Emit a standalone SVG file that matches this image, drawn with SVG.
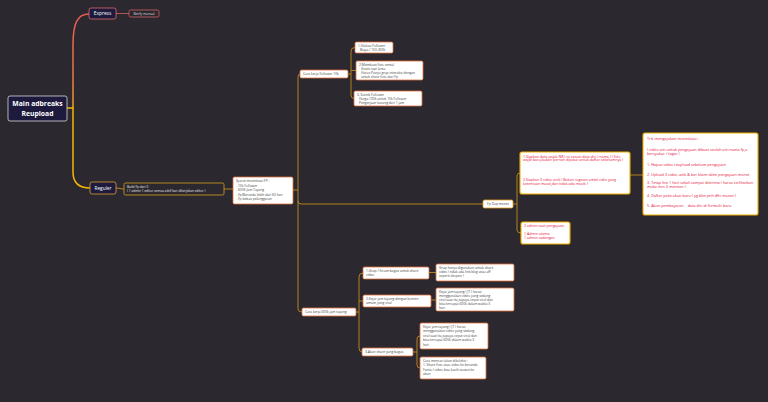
<svg xmlns="http://www.w3.org/2000/svg" width="768" height="402" viewBox="0 0 768 402">
<defs>
<linearGradient id="gRed" gradientUnits="userSpaceOnUse" x1="0" y1="108" x2="0" y2="14">
<stop offset="0" stop-color="#f5a020"/><stop offset="0.3" stop-color="#f07840"/><stop offset="1" stop-color="#e85a52"/>
</linearGradient>
<style>
text{font-family:"Open Sans","Liberation Sans",sans-serif}
.lnk{fill:none;stroke:#c08c1c;stroke-width:0.9}
.dk{fill:#1d1a3d}
.w{fill:#ffffff;stroke:#e0703a;stroke-width:0.8}
.wy{fill:#ffffff;stroke:#f0b000;stroke-width:1.1}
.t{font-size:3.3px;fill:#444}
.r{font-size:3.6px;fill:#e8123c}
.r2{font-size:3.8px;fill:#e8123c}
.lt{font-size:3.2px;fill:#e8e8e8}
</style>
</defs>
<rect width="768" height="402" fill="#2c2830"/>
<g id="connectors">
<path d="M73,108 V45 C73,22 78,14 89,14" fill="none" stroke="url(#gRed)" stroke-width="1.5"/>
<path d="M67,108 H73 V172 C73,182 78,188 90,188" fill="none" stroke="#f2b705" stroke-width="1.5"/>
<path d="M116,13.5 H129" fill="none" stroke="#d06060" stroke-width="0.8"/>
<path d="M116,188 C120,188 120,189 124,189" fill="none" stroke="#d8a020" stroke-width="0.8"/>
<path class="lnk" d="M224,189 H233"/>
<path class="lnk" d="M293,190 H298"/>
<path class="lnk" d="M300,74 Q298,74 298,77 V309 Q298,312 302,312"/>
<path class="lnk" d="M298,201 Q298,204 301,204 H483"/>
<path class="lnk" d="M348,74 H351"/>
<path class="lnk" d="M355,47.5 Q351,47.5 351,51 V95 Q351,98.5 354,98.5"/>
<path class="lnk" d="M351,70.5 H356"/>
<path class="lnk" d="M356,312 H359"/>
<path class="lnk" d="M363,273 Q359,273 359,277 V348 Q359,352 362,352"/>
<path class="lnk" d="M359,301 H363"/>
<path class="lnk" d="M413,352 H417"/>
<path class="lnk" d="M420,336 Q417,336 417,339 V365 Q417,368 420,368"/>
<path class="lnk" d="M429,272.5 H436"/>
<path class="lnk" d="M431,300 H436"/>
<path class="lnk" d="M513,204 H517"/>
<path class="lnk" d="M520,173 Q517,173 517,176 V230 Q517,233 521,233"/>
<path class="lnk" d="M630,175 H643"/>
</g>
<g id="main">
<rect x="8" y="96" width="59" height="25" rx="2" class="dk" stroke="#d8d8d8" stroke-width="0.8"/>
<text x="37.5" y="106" font-size="6.8" font-weight="bold" fill="#fff" text-anchor="middle">Main adbreaks</text>
<text x="37.5" y="115.5" font-size="6.8" font-weight="bold" fill="#fff" text-anchor="middle">Reupload</text>
</g>
<g id="express">
<rect x="89" y="8" width="27" height="11" rx="2" class="dk" stroke="#e06a6a" stroke-width="0.8"/>
<text x="102.5" y="15.3" font-size="4.8" fill="#fff" text-anchor="middle">Express</text>
</g>
<g id="betify">
<rect x="129" y="10" width="30" height="7" rx="1.5" fill="#2c2830" stroke="#d06060" stroke-width="0.8"/>
<text x="144" y="14.6" font-size="3.3" fill="#ddd" text-anchor="middle">Betify manual</text>
</g>
<g id="reguler">
<rect x="90" y="182" width="26" height="12" rx="2" class="dk" stroke="#e0a030" stroke-width="0.8"/>
<text x="103" y="189.8" font-size="4.8" fill="#fff" text-anchor="middle">Reguler</text>
</g>
<g id="build">
<rect x="124" y="183" width="100" height="12" rx="1.5" fill="#2c2830" stroke="#d8a020" stroke-width="0.8"/>
<text x="127" y="187.8" class="lt">Build Fp dari 0</text>
<text x="127" y="192.3" class="lt">( 1 admin 1 editor semua aktif kan dikerjakan editor )</text>
</g>
<g id="syarat">
<rect x="233" y="177" width="60" height="27" rx="1.5" class="w" stroke="#e08a30"/>
<text class="t"><tspan x="236" y="182">Syarat monetisasi FP :</tspan><tspan x="236" y="186.5">- 10k Follower</tspan><tspan x="236" y="191">- 600K Jam Tayang</tspan><tspan x="236" y="195.5">- Fp/Beranda lebih dari 60 hari</tspan><tspan x="236" y="200">- Fp bebas pelanggaran</tspan></text>
</g>
<g id="follower">
<rect x="300" y="70" width="48" height="8" rx="1.5" class="w"/>
<text x="303" y="75.2" class="t">Cara kerja Follower 10k</text>
</g>
<g id="f-c1">
<rect x="355" y="42" width="38" height="11" rx="1.5" class="w"/>
<text class="t"><tspan x="358" y="46.5">1.Visitasi Follower</tspan><tspan x="360" y="51">Biaya / 150-300k</tspan></text>
</g>
<g id="f-c2">
<rect x="356" y="61" width="67" height="19" rx="1.5" class="w"/>
<text class="t"><tspan x="359" y="65.5">2.Membuat foto sentul</tspan><tspan x="361" y="69.5">Gratis tapi lama</tspan><tspan x="361" y="73.5">Harus Punya grup interaksi dengan</tspan><tspan x="361" y="77.5">untuk share foto dari Fp</tspan></text>
</g>
<g id="f-c3">
<rect x="354" y="91" width="68" height="15" rx="1.5" class="w"/>
<text class="t"><tspan x="357" y="95.5">3. Suntik Follower</tspan><tspan x="359" y="99.5">Harga 100k untuk 10k Follower</tspan><tspan x="359" y="103.5">Pengerjaan kurang dari 1 jam</tspan></text>
</g>
<g id="jam">
<rect x="302" y="308" width="54" height="8" rx="1.5" class="w"/>
<text x="305" y="313.2" class="t">Cara kerja 600k jam tayang</text>
</g>
<g id="j-c1">
<rect x="363" y="267" width="66" height="12" rx="1.5" class="w"/>
<text class="t"><tspan x="366" y="272">1.Grup / forum bagus untuk share</tspan><tspan x="366" y="276.3">video</tspan></text>
</g>
<g id="j-c2">
<rect x="363" y="295" width="68" height="12" rx="1.5" class="w"/>
<text class="t"><tspan x="366" y="300">2.Kejar jam tayang dengan konten</tspan><tspan x="366" y="304.3">umum yang viral</tspan></text>
</g>
<g id="j-c3">
<rect x="362" y="348" width="51" height="8" rx="1.5" class="w"/>
<text x="365" y="353.2" class="t">3.Akun share yang bagus</text>
</g>
<g id="j-c1-a">
<rect x="436" y="264" width="78" height="17" rx="1.5" class="w"/>
<text class="t"><tspan x="439" y="268.5">Grup hanya digunakan untuk share</tspan><tspan x="439" y="272.5">video ( tidak ada link blog atau aff</tspan><tspan x="439" y="276.5">seperti shopee )</tspan></text>
</g>
<g id="j-c2-a">
<rect x="436" y="288" width="78" height="23" rx="1.5" class="w"/>
<text class="t"><tspan x="439" y="292.5">Kejar jam tayang ( JT ) harus</tspan><tspan x="439" y="296.5">menggunakan video yang sedang</tspan><tspan x="439" y="300.5">viral saat itu,supaya cepat viral dan</tspan><tspan x="439" y="304.5">bisa tercapai 600k dalam waktu 3</tspan><tspan x="439" y="308.5">hari</tspan></text>
</g>
<g id="j-c3-a">
<rect x="420" y="323" width="68" height="26" rx="1.5" class="w"/>
<text class="t"><tspan x="423" y="327.5">Kejar jam tayang ( JT ) harus</tspan><tspan x="423" y="332">menggunakan video yang sedang</tspan><tspan x="423" y="336.5">viral saat itu,supaya cepat viral dan</tspan><tspan x="423" y="341">bisa tercapai 600k dalam waktu 3</tspan><tspan x="423" y="345.5">hari</tspan></text>
</g>
<g id="j-c3-b">
<rect x="420" y="357" width="66" height="22" rx="1.5" class="w"/>
<text class="t"><tspan x="423" y="361.5">Cara mencari akun dikoleksi :</tspan><tspan x="423" y="366">1. Share foto atau video ke beranda</tspan><tspan x="423" y="370.5">Fanta / video bisa kasih tautan ke</tspan><tspan x="423" y="375">akun</tspan></text>
</g>
<g id="fpmonet">
<rect x="483" y="200" width="30" height="8" rx="1.5" fill="#fff" stroke="#e0a020" stroke-width="0.8"/>
<text x="498" y="205.2" class="t" text-anchor="middle">Fp Dap monet</text>
</g>
<g id="fp-c1">
<rect x="520" y="152" width="110" height="42" rx="2" class="wy"/>
<text class="r"><tspan x="523" y="157.5">1.Siapkan data pajak NR ( isi sesuai data diri / nama ) ( foto</tspan><tspan x="523" y="161.3">wajib baru,bukan pernah dipakai untuk daftar sebelumnya )</tspan><tspan x="523" y="181">2.Siapkan 3 video unik ( Bukan rugatan ambil vidio yang</tspan><tspan x="523" y="184.8">ketentuan musik,dan tidak ada musik )</tspan></text>
</g>
<g id="fp-c2">
<rect x="521" y="222" width="49" height="22" rx="2" class="wy"/>
<text class="r"><tspan x="524" y="227">2 admin saat pengajuan</tspan><tspan x="524" y="234.5">1 Admin utama</tspan><tspan x="524" y="238.5">1 admin cadangan</tspan></text>
</g>
<g id="trik">
<rect x="643" y="133" width="115" height="82" rx="2" class="wy"/>
<text class="r2"><tspan x="647" y="139.5">Trik mengajukan monetisasi :</tspan><tspan x="647" y="151">( video arti untuk pengajuan dibuat seolah arti nama fp,a</tspan><tspan x="647" y="155.2">bersyukur / tagar )</tspan><tspan x="647" y="166">1. Hapus video reupload sebelum pengajuan</tspan><tspan x="647" y="175.5">2. Upload 3 video unik &amp; ber klaim sblm pengajuan monet</tspan><tspan x="647" y="183.5">3. Tetap live 1 hari sekali sampai diterima ( harus terlihatkan</tspan><tspan x="647" y="187.7">muka min 3 menitan )</tspan><tspan x="647" y="197">4. Daftar pake akun baru ( yg blm pnh dftr monet )</tspan><tspan x="647" y="207">5. Akun pembayaran = data diri di formulir baru</tspan></text>
</g>
</svg>
